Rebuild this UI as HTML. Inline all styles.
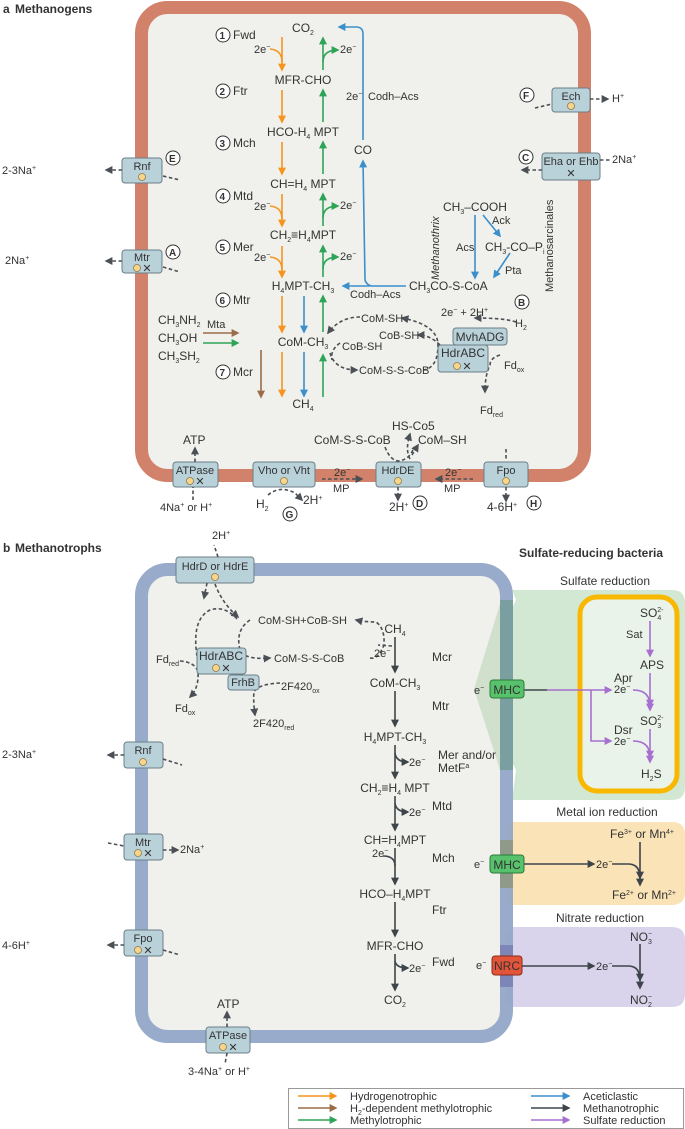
<!DOCTYPE html>
<html><head><meta charset="utf-8"><style>
body{margin:0;background:#fff}
svg{display:block;font-family:"Liberation Sans",sans-serif}
text{fill:#333}
.s{font-size:11px}
.m{font-size:12px}
.box{fill:#B9D1D9;stroke:#6B7F88;stroke-width:1}
.dot{fill:#F9D58A;stroke:#8a7a50;stroke-width:.8}
.d{stroke:#4a5055;stroke-width:1.6;fill:none;stroke-dasharray:3.5 2.5}
.o{stroke:#F7941D;stroke-width:1.6;fill:none}
.g{stroke:#2EA457;stroke-width:1.6;fill:none}
.b{stroke:#3B8FCB;stroke-width:1.6;fill:none}
.br{stroke:#9B6C47;stroke-width:1.6;fill:none}
.k{stroke:#3E454A;stroke-width:1.6;fill:none}
.p{stroke:#A66FD0;stroke-width:1.6;fill:none}
</style></head><body>
<svg width="685" height="1129" viewBox="0 0 685 1129">
<defs>
<marker id="ao" viewBox="0 0 10 10" refX="8" refY="5" markerWidth="5" markerHeight="5" orient="auto"><path d="M0,0L10,5L0,10z" fill="#F7941D"/></marker>
<marker id="ag" viewBox="0 0 10 10" refX="8" refY="5" markerWidth="5" markerHeight="5" orient="auto"><path d="M0,0L10,5L0,10z" fill="#2EA457"/></marker>
<marker id="ab" viewBox="0 0 10 10" refX="8" refY="5" markerWidth="5" markerHeight="5" orient="auto"><path d="M0,0L10,5L0,10z" fill="#3B8FCB"/></marker>
<marker id="abr" viewBox="0 0 10 10" refX="8" refY="5" markerWidth="5" markerHeight="5" orient="auto"><path d="M0,0L10,5L0,10z" fill="#9B6C47"/></marker>
<marker id="ak" viewBox="0 0 10 10" refX="8" refY="5" markerWidth="5" markerHeight="5" orient="auto"><path d="M0,0L10,5L0,10z" fill="#3E454A"/></marker>
<marker id="ad" viewBox="0 0 10 10" refX="8" refY="5" markerWidth="5" markerHeight="5" orient="auto"><path d="M0,0L10,5L0,10z" fill="#4a5055"/></marker>
<marker id="ap" viewBox="0 0 10 10" refX="8" refY="5" markerWidth="5" markerHeight="5" orient="auto"><path d="M0,0L10,5L0,10z" fill="#A66FD0"/></marker>
</defs>

<!-- PANEL A -->
<text x="3" y="13" font-size="12" font-weight="bold">a</text><text x="15" y="13" font-size="12" font-weight="bold">Methanogens</text>
<rect x="141.5" y="7.5" width="443" height="468" rx="26" fill="#F0F0EC" stroke="#D2826A" stroke-width="13"/>

<g class="m">
<circle cx="223" cy="35" r="7" fill="#fff" stroke="#333"/><text x="219.5" y="39" font-size="10" font-weight="bold">1</text><text x="233" y="39">Fwd</text>
<circle cx="223" cy="91" r="7" fill="#fff" stroke="#333"/><text x="219.5" y="95" font-size="10" font-weight="bold">2</text><text x="233" y="95">Ftr</text>
<circle cx="223" cy="143" r="7" fill="#fff" stroke="#333"/><text x="219.5" y="147" font-size="10" font-weight="bold">3</text><text x="233" y="147">Mch</text>
<circle cx="223" cy="196" r="7" fill="#fff" stroke="#333"/><text x="219.5" y="200" font-size="10" font-weight="bold">4</text><text x="233" y="200">Mtd</text>
<circle cx="223" cy="247" r="7" fill="#fff" stroke="#333"/><text x="219.5" y="251" font-size="10" font-weight="bold">5</text><text x="233" y="251">Mer</text>
<circle cx="223" cy="300" r="7" fill="#fff" stroke="#333"/><text x="219.5" y="304" font-size="10" font-weight="bold">6</text><text x="233" y="304">Mtr</text>
<circle cx="223" cy="372" r="7" fill="#fff" stroke="#333"/><text x="219.5" y="376" font-size="10" font-weight="bold">7</text><text x="233" y="376">Mcr</text>
</g>
<g class="m" text-anchor="middle">
<text x="303" y="32">CO<tspan font-size="7" dy="3">2</tspan></text>
<text x="303" y="84">MFR-CHO</text>
<text x="303" y="136">HCO-H<tspan font-size="7" dy="3">4</tspan><tspan dy="-3"> MPT</tspan></text>
<text x="303" y="188">CH=H<tspan font-size="7" dy="3">4</tspan><tspan dy="-3"> MPT</tspan></text>
<text x="303" y="239">CH<tspan font-size="7" dy="3">2</tspan><tspan dy="-3">≡H</tspan><tspan font-size="7" dy="3">4</tspan><tspan dy="-3">MPT</tspan></text>
<text x="303" y="290">H<tspan font-size="7" dy="3">4</tspan><tspan dy="-3">MPT-CH</tspan><tspan font-size="7" dy="3">3</tspan></text>
<text x="303" y="346">CoM-CH<tspan font-size="7" dy="3">3</tspan></text>
<text x="303" y="408">CH<tspan font-size="7" dy="3">4</tspan></text>
<text x="363" y="154">CO</text>
</g>
<g class="o" marker-end="url(#ao)">
<path d="M282,37V70"/><path d="M282,90V122"/><path d="M282,142V174"/><path d="M282,194V226"/><path d="M282,246V277"/><path d="M282,296V332"/><path d="M282,352V396"/>
</g>
<g class="o"><path d="M270,49Q282,50 282,62"/><path d="M270,206Q282,207 282,219"/><path d="M270,257Q282,258 282,270"/></g>
<g class="s"><text x="254" y="53">2e<tspan font-size="7" dy="-4">−</tspan></text><text x="254" y="210">2e<tspan font-size="7" dy="-4">−</tspan></text><text x="254" y="261">2e<tspan font-size="7" dy="-4">−</tspan></text></g>
<g class="g" marker-end="url(#ag)">
<path d="M323,70V38"/><path d="M323,122V90"/><path d="M323,174V142"/><path d="M323,226V194"/><path d="M323,277V246"/><path d="M323,332V296"/><path d="M323,397V355"/>
<path d="M323,62Q323,50 338,50"/><path d="M323,218Q323,206 338,206"/><path d="M323,269Q323,257 338,257"/>
<path d="M203,343H238"/>
</g>
<g class="s"><text x="340" y="53">2e<tspan font-size="7" dy="-4">−</tspan></text><text x="340" y="209">2e<tspan font-size="7" dy="-4">−</tspan></text><text x="340" y="260">2e<tspan font-size="7" dy="-4">−</tspan></text></g>
<g class="br" marker-end="url(#abr)"><path d="M261,350V397"/><path d="M203,333H238"/></g>
<g class="b" marker-end="url(#ab)">
<path d="M304,296V332"/><path d="M304,352V396"/>
<path d="M363,140V34Q363,27 356,27H339"/>
<path d="M406,286H373Q367,286 365,280L363,161"/>
<path d="M370,286H343"/>
<path d="M475,215V278"/><path d="M483,215L500,236"/><path d="M510,253L494,277"/>
</g>
<g class="s">
<text x="346" y="100">2e<tspan font-size="7" dy="-4">−</tspan></text><text x="368" y="100">Codh–Acs</text>
<text x="350" y="298">Codh–Acs</text>
<text x="409" y="290" class="m">CH<tspan font-size="7" dy="3">3</tspan><tspan dy="-3">CO-S-CoA</tspan></text>
<text x="443" y="211" class="m">CH<tspan font-size="7" dy="3">3</tspan><tspan dy="-3">–COOH</tspan></text>
<text x="492" y="224">Ack</text><text x="456" y="251">Acs</text><text x="505" y="274">Pta</text>
<text x="485" y="251" class="m">CH<tspan font-size="7" dy="3">3</tspan><tspan dy="-3">-CO–P</tspan><tspan font-size="7" dy="3">i</tspan></text>
<text transform="translate(439,280) rotate(-90)" font-style="italic">Methanothrix</text>
<text transform="translate(553,292) rotate(-90)">Methanosarcinales</text>
</g>
<g class="m"><text x="158" y="324">CH<tspan font-size="7" dy="3">3</tspan><tspan dy="-3">NH</tspan><tspan font-size="7" dy="3">2</tspan></text>
<text x="158" y="342">CH<tspan font-size="7" dy="3">3</tspan><tspan dy="-3">OH</tspan></text>
<text x="158" y="360">CH<tspan font-size="7" dy="3">3</tspan><tspan dy="-3">SH</tspan><tspan font-size="7" dy="3">2</tspan></text></g>
<text x="207" y="328" class="s">Mta</text>
<g class="d" marker-end="url(#ad)">
<path d="M360,317Q340,317 328,333"/>
<path d="M330,353Q335,370 357,370"/>
<path d="M423,370Q438,368 438,345Q438,325 402,318"/>
<path d="M440,345Q430,335 418,335"/>
<path d="M516,322Q505,318 475,318"/>
<path d="M500,355Q490,358 490,365Q485,375 485,392"/>
</g>
<path class="d" d="M340,343Q330,350 332,360"/>
<g class="s">
<text x="361" y="322">CoM-SH</text><text x="379" y="339">CoB-SH</text><text x="342" y="350">CoB-SH</text>
<text x="359" y="374">CoM-S-S-CoB</text>
<text x="441" y="316">2e<tspan font-size="7" dy="-4">−</tspan><tspan dy="4"> + 2H</tspan><tspan font-size="7" dy="-4">+</tspan></text>
<text x="515" y="327">H<tspan font-size="7" dy="3">2</tspan></text>
<text x="504" y="369">Fd<tspan font-size="7" dy="3">ox</tspan></text>
<text x="480" y="414">Fd<tspan font-size="7" dy="3">red</tspan></text>
</g>
<circle cx="522" cy="302" r="7" fill="#fff" stroke="#333"/><text x="518" y="306" font-size="10" font-weight="bold">B</text>
<rect class="box" x="453" y="328" width="54" height="17" rx="3"/><text x="480" y="341" class="m" text-anchor="middle">MvhADG</text>
<rect class="box" x="438" y="345" width="50" height="27" rx="3"/><text x="463" y="357" class="m" text-anchor="middle">HdrABC</text>
<circle class="dot" cx="457" cy="366" r="3.5"/><text x="467" y="370" class="s" text-anchor="middle">✕</text>

<rect class="box" x="122" y="158" width="40" height="25" rx="3"/><text x="142" y="170" class="s" text-anchor="middle">Rnf</text><circle class="dot" cx="142" cy="177" r="3.5"/>
<circle cx="173" cy="158" r="7" fill="#fff" stroke="#333"/><text x="169" y="162" font-size="10" font-weight="bold">E</text>
<path class="d" d="M122,170H106" marker-end="url(#ad)"/><path class="d" d="M163,176L180,180"/>
<text x="2" y="174" class="s">2-3Na<tspan font-size="7" dy="-4">+</tspan></text>
<rect class="box" x="122" y="250" width="40" height="23" rx="3"/><text x="142" y="261" class="s" text-anchor="middle">Mtr</text><circle class="dot" cx="137" cy="268" r="3.5"/><text x="147" y="272" class="s" text-anchor="middle">✕</text>
<circle cx="173" cy="252" r="7" fill="#fff" stroke="#333"/><text x="169" y="256" font-size="10" font-weight="bold">A</text>
<path class="d" d="M122,261H106" marker-end="url(#ad)"/><path class="d" d="M163,267L180,272"/>
<text x="5" y="264" class="s">2Na<tspan font-size="7" dy="-4">+</tspan></text>
<rect class="box" x="552" y="88" width="38" height="24" rx="3"/><text x="571" y="100" class="s" text-anchor="middle">Ech</text><circle class="dot" cx="571" cy="106" r="3.5"/>
<circle cx="527" cy="95" r="7" fill="#fff" stroke="#333"/><text x="523" y="99" font-size="10" font-weight="bold">F</text>
<path class="d" d="M535,108L552,104"/><path class="d" d="M590,99H608" marker-end="url(#ad)"/>
<text x="612" y="102" class="s">H<tspan font-size="7" dy="-4">+</tspan></text>
<rect class="box" x="542" y="153" width="58" height="27" rx="3"/><text x="571" y="165" class="s" text-anchor="middle">Eha or Ehb</text><text x="571" y="177" class="s" text-anchor="middle">✕</text>
<circle cx="526" cy="157" r="7" fill="#fff" stroke="#333"/><text x="522" y="161" font-size="10" font-weight="bold">C</text>
<path class="d" d="M542,170H522" marker-end="url(#ad)"/><path class="d" d="M600,160H610"/>
<text x="612" y="163" class="s">2Na<tspan font-size="7" dy="-4">+</tspan></text>

<rect class="box" x="173" y="462" width="45" height="25" rx="3"/><text x="195" y="474" class="s" text-anchor="middle">ATPase</text><circle class="dot" cx="190" cy="481" r="3.5"/><text x="200" y="485" class="s" text-anchor="middle">✕</text>
<text x="183" y="444" class="m">ATP</text><path class="d" d="M195,462V448" marker-end="url(#ad)"/><path class="d" d="M193,500V487"/>
<text x="160" y="511" class="s">4Na<tspan font-size="7" dy="-4">+</tspan><tspan dy="4"> or H</tspan><tspan font-size="7" dy="-4">+</tspan></text>
<rect class="box" x="253" y="462" width="62" height="25" rx="3"/><text x="284" y="474" class="s" text-anchor="middle">Vho or Vht</text><circle class="dot" cx="284" cy="481" r="3.5"/>
<path class="d" d="M268,495Q280,485 295,493L302,500" marker-end="url(#ad)"/>
<text x="256" y="508" class="m">H<tspan font-size="7" dy="3">2</tspan></text><text x="303" y="504" class="m">2H<tspan font-size="7" dy="-4">+</tspan></text>
<circle cx="290" cy="514" r="7" fill="#fff" stroke="#333"/><text x="285.5" y="518" font-size="10" font-weight="bold">G</text>
<path class="d" d="M322,479H362" marker-end="url(#ad)"/><text x="334" y="476" class="s">2e<tspan font-size="7" dy="-4">−</tspan></text><text x="333" y="492" class="s">MP</text>
<rect class="box" x="376" y="462" width="45" height="25" rx="3"/><text x="398" y="474" class="s" text-anchor="middle">HdrDE</text><circle class="dot" cx="398" cy="481" r="3.5"/>
<path class="d" d="M398,487V500" marker-end="url(#ad)"/><text x="389" y="511" class="m">2H<tspan font-size="7" dy="-4">+</tspan></text>
<circle cx="420" cy="503" r="7" fill="#fff" stroke="#333"/><text x="416" y="507" font-size="10" font-weight="bold">D</text>
<path class="d" d="M473,479H436" marker-end="url(#ad)"/><text x="445" y="476" class="s">2e<tspan font-size="7" dy="-4">−</tspan></text><text x="444" y="492" class="s">MP</text>
<rect class="box" x="484" y="462" width="44" height="25" rx="3"/><text x="506" y="474" class="s" text-anchor="middle">Fpo</text><circle class="dot" cx="506" cy="481" r="3.5"/>
<path class="d" d="M506,449V460"/><path class="d" d="M506,487V501" marker-end="url(#ad)"/>
<text x="487" y="511" class="m">4-6H<tspan font-size="7" dy="-4">+</tspan></text>
<circle cx="534" cy="503" r="7" fill="#fff" stroke="#333"/><text x="530" y="507" font-size="10" font-weight="bold">H</text>
<path class="d" d="M385,447Q390,460 398,461Q410,460 414,447" /><path class="d" d="M410,459Q405,450 410,434" marker-end="url(#ad)"/><path class="d" d="M412,455L418,445" marker-end="url(#ad)"/>
<text x="314" y="444" class="m">CoM-S-S-CoB</text><text x="392" y="430" class="m">HS-Co5</text><text x="418" y="444" class="m">CoM–SH</text>

<!-- PANEL B -->
<text x="3" y="552" font-size="12" font-weight="bold">b</text><text x="15" y="552" font-size="12" font-weight="bold">Methanotrophs</text>
<text x="519" y="557" font-size="12" font-weight="bold">Sulfate-reducing bacteria</text>

<path d="M512,590H672Q685,590 685,603V787Q685,800 672,800H512L516,770L474,689L516,600Z" fill="#D3E8D3"/>
<text x="605" y="585" class="m" text-anchor="middle">Sulfate reduction</text>
<path d="M512,822H672Q685,822 685,835V892Q685,905 672,905H512L470,863Z" fill="#FBE3B8"/>
<text x="607" y="816" class="m" text-anchor="middle">Metal ion reduction</text>
<path d="M512,927H672Q685,927 685,940V994Q685,1007 672,1007H512L470,966Z" fill="#D9D3EC"/>
<text x="600" y="922" class="m" text-anchor="middle">Nitrate reduction</text>

<rect x="141.5" y="569.5" width="365" height="467" rx="26" fill="#F0F0EC" stroke="#94A7C8" stroke-width="13" stroke-opacity=".95"/>
<path d="M500,604L474,689L500,770Z" fill="#A8CCA8" opacity=".45"/>
<rect x="500" y="600" width="13" height="170" fill="#7A9FA0"/>
<rect x="500" y="840" width="13" height="48" fill="#8F9A8A"/>
<rect x="500" y="945" width="13" height="42" fill="#7E86B8"/>

<rect x="580" y="597" width="97" height="194" rx="17" fill="#EAF3EA" stroke="#F9B800" stroke-width="5"/>
<g class="m">
<text x="640" y="617">SO<tspan font-size="7" dy="3">4</tspan><tspan font-size="7" dy="-8" dx="-4">2-</tspan></text>
<text x="626" y="638" class="s">Sat</text>
<text x="640" y="669">APS</text>
<text x="614" y="682">Apr</text>
<text x="614" y="693" class="s">2e<tspan font-size="7" dy="-4">−</tspan></text>
<text x="640" y="725">SO<tspan font-size="7" dy="3">3</tspan><tspan font-size="7" dy="-8" dx="-4">2-</tspan></text>
<text x="614" y="734">Dsr</text>
<text x="614" y="745" class="s">2e<tspan font-size="7" dy="-4">−</tspan></text>
<text x="641" y="778">H<tspan font-size="7" dy="3">2</tspan><tspan dy="-3">S</tspan></text>
</g>
<g class="p" marker-end="url(#ap)">
<path d="M650,621V656"/><path d="M650,673V710"/><path d="M650,729V762"/>
<path d="M547,690H611"/><path d="M591,690V741H611"/>
<path d="M633,690Q650,690 650,706"/><path d="M633,741Q650,741 650,757"/>
</g>
<path d="M524,690H547" stroke="#3E454A" stroke-width="1.6"/>
<rect x="490" y="680" width="34" height="18" rx="3" fill="#57C26B" stroke="#2E7A3A"/><text x="507" y="694" class="m" text-anchor="middle" fill="#1d3a22">MHC</text>
<text x="474" y="694" class="s">e<tspan font-size="7" dy="-4">−</tspan></text>

<rect x="490" y="855" width="34" height="18" rx="3" fill="#57C26B" stroke="#2E7A3A"/><text x="507" y="869" class="m" text-anchor="middle">MHC</text>
<text x="474" y="868" class="s">e<tspan font-size="7" dy="-4">−</tspan></text>
<path class="k" d="M524,864H594" marker-end="url(#ak)"/>
<text x="596" y="868" class="s">2e<tspan font-size="7" dy="-4">−</tspan></text>
<path class="k" d="M612,864H628Q640,864 640,878" marker-end="url(#ak)"/>
<path class="k" d="M640,842V885" marker-end="url(#ak)"/>
<text x="610" y="838" class="m">Fe<tspan font-size="7" dy="-4">3+</tspan><tspan dy="4"> or Mn</tspan><tspan font-size="7" dy="-4">4+</tspan></text>
<text x="612" y="899" class="m">Fe<tspan font-size="7" dy="-4">2+</tspan><tspan dy="4"> or Mn</tspan><tspan font-size="7" dy="-4">2+</tspan></text>

<rect x="492" y="956" width="30" height="19" rx="3" fill="#E2553A" stroke="#8a2a18"/><text x="507" y="970" class="m" text-anchor="middle">NRC</text>
<text x="476" y="969" class="s">e<tspan font-size="7" dy="-4">−</tspan></text>
<path class="k" d="M522,966H594" marker-end="url(#ak)"/>
<text x="596" y="970" class="s">2e<tspan font-size="7" dy="-4">−</tspan></text>
<path class="k" d="M612,966H628Q640,966 640,980" marker-end="url(#ak)"/>
<path class="k" d="M640,944V988" marker-end="url(#ak)"/>
<text x="630" y="941" class="m">NO<tspan font-size="7" dy="3">3</tspan><tspan font-size="7" dy="-8" dx="-4">−</tspan></text>
<text x="630" y="1004" class="m">NO<tspan font-size="7" dy="3">2</tspan><tspan font-size="7" dy="-8" dx="-4">−</tspan></text>

<g class="m" text-anchor="middle">
<text x="395" y="633">CH<tspan font-size="7" dy="3">4</tspan></text>
<text x="395" y="687">CoM-CH<tspan font-size="7" dy="3">3</tspan></text>
<text x="395" y="741">H<tspan font-size="7" dy="3">4</tspan><tspan dy="-3">MPT-CH</tspan><tspan font-size="7" dy="3">3</tspan></text>
<text x="395" y="792">CH<tspan font-size="7" dy="3">2</tspan><tspan dy="-3">≡H</tspan><tspan font-size="7" dy="3">4</tspan><tspan dy="-3"> MPT</tspan></text>
<text x="395" y="844">CH=H<tspan font-size="7" dy="3">4</tspan><tspan dy="-3">MPT</tspan></text>
<text x="395" y="898">HCO–H<tspan font-size="7" dy="3">4</tspan><tspan dy="-3">MPT</tspan></text>
<text x="395" y="950">MFR-CHO</text>
<text x="395" y="1004">CO<tspan font-size="7" dy="3">2</tspan></text>
</g>
<g class="k" marker-end="url(#ak)">
<path d="M395,637V672"/><path d="M395,691V726"/><path d="M395,745V778"/><path d="M395,796V830"/><path d="M395,848V884"/><path d="M395,902V936"/><path d="M395,954V990"/>
<path d="M395,753Q396,762 408,762"/><path d="M395,803Q396,812 408,812"/><path d="M395,961Q396,968 408,968"/>
</g>
<path class="k" d="M383,856Q395,856 395,866"/>
<g class="s"><text x="409" y="766">2e<tspan font-size="7" dy="-4">−</tspan></text><text x="409" y="816">2e<tspan font-size="7" dy="-4">−</tspan></text><text x="372" y="857">2e<tspan font-size="7" dy="-4">−</tspan></text><text x="409" y="972">2e<tspan font-size="7" dy="-4">−</tspan></text></g>
<g class="m"><text x="432" y="661">Mcr</text><text x="432" y="710">Mtr</text><text x="438" y="759">Mer and/or</text><text x="438" y="772">MetF<tspan font-size="7" dy="-4">a</tspan></text><text x="432" y="810">Mtd</text><text x="432" y="862">Mch</text><text x="432" y="914">Ftr</text><text x="432" y="966">Fwd</text></g>

<rect class="box" x="176" y="557" width="78" height="26" rx="3"/><text x="215" y="570" class="s" text-anchor="middle">HdrD or HdrE</text><circle class="dot" cx="215" cy="577" r="3.5"/>
<text x="212" y="539" class="s">2H<tspan font-size="7" dy="-4">+</tspan></text>
<path class="d" d="M218,557L214,545"/>
<path class="d" d="M207,583L204,598" marker-end="url(#ad)"/>
<path class="d" d="M215,584Q222,603 238,617" marker-end="url(#ad)"/>
<path class="d" d="M198,662Q190,620 210,610Q225,605 238,620"/>
<path class="d" d="M250,620Q235,630 240,650Q244,660 270,658" marker-end="url(#ad)"/>
<path class="d" d="M370,658Q378,660 384,645Q385,628 376,622Q365,622 356,620" marker-end="url(#ad)"/>
<path class="d" d="M392,646L378,645"/>
<path class="d" d="M180,661Q195,662 198,672Q199,688 190,697" marker-end="url(#ad)"/>
<path class="d" d="M280,683Q258,684 254,692Q253,700 255,715" marker-end="url(#ad)"/>
<g class="s">
<text x="258" y="624">CoM-SH+CoB-SH</text>
<text x="274" y="662">CoM-S-S-CoB</text>
<text x="374" y="657">2e<tspan font-size="7" dy="-4">−</tspan></text>
<text x="156" y="663">Fd<tspan font-size="7" dy="3">red</tspan></text>
<text x="175" y="712">Fd<tspan font-size="7" dy="3">ox</tspan></text>
<text x="281" y="690">2F420<tspan font-size="7" dy="3">ox</tspan></text>
<text x="253" y="727">2F420<tspan font-size="7" dy="3">red</tspan></text>
</g>
<rect class="box" x="197" y="648" width="49" height="26" rx="3"/><text x="221" y="660" class="m" text-anchor="middle">HdrABC</text><circle class="dot" cx="216" cy="668" r="3.5"/><text x="226" y="672" class="s" text-anchor="middle">✕</text>
<rect class="box" x="228" y="675" width="31" height="15" rx="3"/><text x="243" y="686" class="s" text-anchor="middle">FrhB</text>

<rect class="box" x="124" y="742" width="39" height="26" rx="3"/><text x="143" y="754" class="s" text-anchor="middle">Rnf</text><circle class="dot" cx="143" cy="762" r="3.5"/>
<path class="d" d="M124,755H108" marker-end="url(#ad)"/><path class="d" d="M163,759L182,765"/>
<text x="2" y="758" class="s">2-3Na<tspan font-size="7" dy="-4">+</tspan></text>
<rect class="box" x="124" y="834" width="39" height="26" rx="3"/><text x="143" y="846" class="s" text-anchor="middle">Mtr</text><circle class="dot" cx="138" cy="853" r="3.5"/><text x="148" y="857" class="s" text-anchor="middle">✕</text>
<path class="d" d="M108,843L124,846"/><path class="d" d="M163,850H178" marker-end="url(#ad)"/>
<text x="180" y="853" class="s">2Na<tspan font-size="7" dy="-4">+</tspan></text>
<rect class="box" x="124" y="930" width="39" height="26" rx="3"/><text x="143" y="942" class="s" text-anchor="middle">Fpo</text><circle class="dot" cx="138" cy="950" r="3.5"/><text x="148" y="954" class="s" text-anchor="middle">✕</text>
<path class="d" d="M124,945H108" marker-end="url(#ad)"/><path class="d" d="M163,950L180,955"/>
<text x="2" y="949" class="s">4-6H<tspan font-size="7" dy="-4">+</tspan></text>
<rect class="box" x="206" y="1027" width="44" height="26" rx="3"/><text x="228" y="1039" class="s" text-anchor="middle">ATPase</text><circle class="dot" cx="223" cy="1047" r="3.5"/><text x="233" y="1051" class="s" text-anchor="middle">✕</text>
<text x="217" y="1008" class="m">ATP</text>
<path class="d" d="M227,1027V1012" marker-end="url(#ad)"/><path class="d" d="M227,1053L225,1064"/>
<text x="188" y="1075" class="s">3-4Na<tspan font-size="7" dy="-4">+</tspan><tspan dy="4"> or H</tspan><tspan font-size="7" dy="-4">+</tspan></text>

<rect x="288.5" y="1088.5" width="395" height="40" fill="#fff" stroke="#999"/>
<g class="s">
<path class="o" d="M298,1096H336" marker-end="url(#ao)"/><text x="350" y="1100">Hydrogenotrophic</text>
<path class="br" d="M298,1108H336" marker-end="url(#abr)"/><text x="350" y="1112">H<tspan font-size="7" dy="3">2</tspan><tspan dy="-3">-dependent methylotrophic</tspan></text>
<path class="g" d="M298,1120H336" marker-end="url(#ag)"/><text x="350" y="1124">Methylotrophic</text>
<path class="b" d="M531,1096H569" marker-end="url(#ab)"/><text x="583" y="1100">Aceticlastic</text>
<path class="k" d="M531,1108H569" marker-end="url(#ak)"/><text x="583" y="1112">Methanotrophic</text>
<path class="p" d="M531,1120H569" marker-end="url(#ap)"/><text x="583" y="1124">Sulfate reduction</text>
</g>
</svg>
</body></html>
